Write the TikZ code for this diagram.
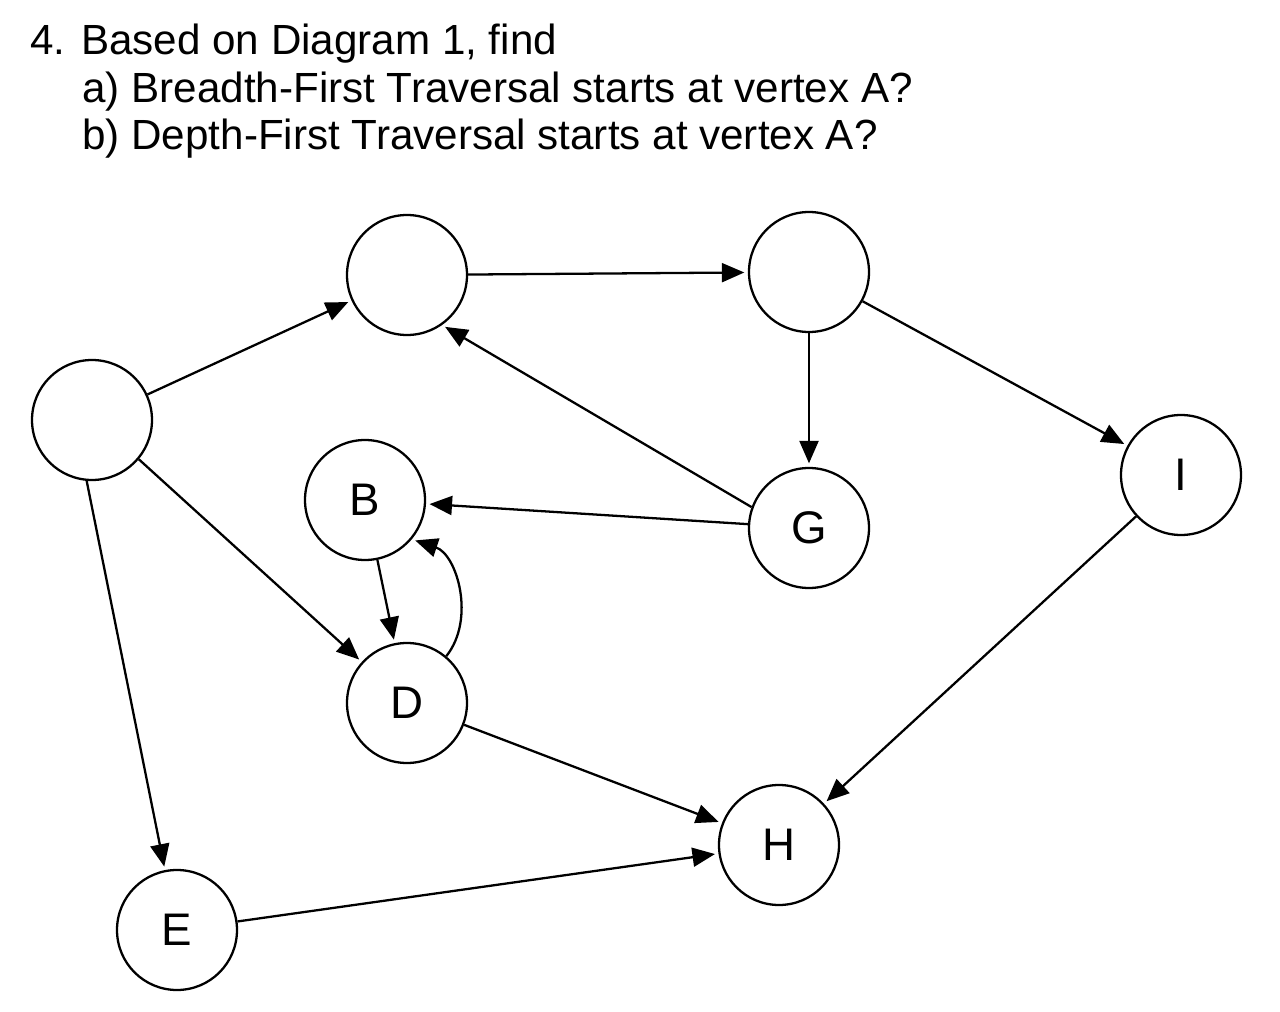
\documentclass[tikz,border=0pt]{standalone}
\usepackage{fontspec}
\setmainfont{Liberation Sans}
\usetikzlibrary{arrows.meta}
\tikzset{
  vtx/.style={circle, draw, line width=1.3pt, minimum size=2.4cm, inner sep=0pt, font=\fontsize{26}{30}\selectfont},
  arc/.style={-{Triangle[length=0.45cm,width=0.38cm]}, line width=1.3pt, shorten >=2pt},
  task/.style={anchor=base west, inner sep=0pt, font=\fontsize{24}{28}\selectfont}
}
\begin{document}
\begin{tikzpicture}
  \useasboundingbox (0,0) rectangle (25.6,20.22);
  %question text
  \node[task] (q1) at (0.6,19.12) {4. Based on Diagram 1, find};
  \node[task] (q2) at (1.64,18.16) {a) Breadth-First Traversal starts at vertex A?};
  \node[task] (q3) at (1.64,17.22) {b) Depth-First Traversal starts at vertex A?};
  %vertices
  \node[vtx] (A) at (1.84,11.82) {};
  \node[vtx] (C) at (8.14,14.72) {};
  \node[vtx] (F) at (16.18,14.78) {};
  \node[vtx] (B) at (7.3,10.22) {B};
  \node[vtx] (G) at (16.18,9.66) {G};
  \node[vtx] (I) at (23.62,10.72) {I};
  \node[vtx] (D) at (8.14,6.16) {D};
  \node[vtx] (H) at (15.58,3.32) {H};
  \node[vtx] (E) at (3.54,1.62) {E};
  %edges
  \draw[arc] (A) -- (C);
  \draw[arc] (C) -- (F);
  \draw[arc] (F) -- (G);
  \draw[arc] (F) -- (I);
  \draw[arc] (G.160) -- (C.-55);
  \draw[arc] (G) -- (B);
  \draw[arc] (B) -- (D);
  \draw[arc] (D.50) to[bend right=55] (B.-40);
  \draw[arc] (A.-40) -- (D);
  \draw[arc] (A.-95) -- (E);
  \draw[arc] (D) -- (H);
  \draw[arc] (E) -- (H);
  \draw[arc] (I) -- (H);
\end{tikzpicture}
\end{document}
